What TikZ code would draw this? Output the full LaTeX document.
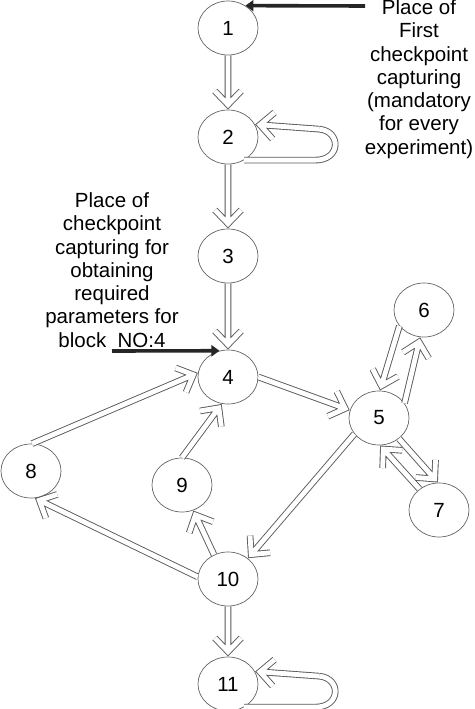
\documentclass[tikz,border=0pt]{standalone}
\usepackage{fontspec}
\setmainfont{Liberation Sans}
\usetikzlibrary{arrows.meta,calc,shapes.geometric}
\newcommand\conarrow[3]{%
  \coordinate (aT) at ($#3!5pt!#2$);
  \draw[#1] #2 -- ($#3!8pt!#2$) ($(aT)!19pt!44:#2$) -- (aT) -- ($(aT)!19pt!-44:#2$);
}
\newcommand\conloop[2]{%
  \draw[#1] (#2.-55) -- ++(71,0) .. controls +(26,0) and +(22,2) .. ++(4,-31) coordinate (lp);
  \conarrow{#1}{(lp)}{(#2.25)}%
}
\newcommand\allconn[1]{%
  \conarrow{#1}{(n1.-90)}{(n2.90)}
  \conarrow{#1}{(n2.-90)}{(n3.90)}
  \conarrow{#1}{(n3.-90)}{(n4.90)}
  \conarrow{#1}{(n10.-90)}{(n11.90)}
  \conarrow{#1}{(n4.0)}{(n5.165)}
  \conarrow{#1}{(n6.213)}{(n5.88)}
  \conarrow{#1}{(n5.30)}{(n6.262)}
  \conarrow{#1}{(n5.-46)}{(n7.92)}
  \conarrow{#1}{(n7.133)}{(n5.-88)}
  \conarrow{#1}{(n5.213)}{(n10.46)}
  \conarrow{#1}{(n10.120)}{(n9.-66)}
  \conarrow{#1}{(n9.90)}{(n4.257)}
  \conarrow{#1}{(n10.176)}{(n8.-82)}
  \conarrow{#1}{(n8.88)}{(n4.172)}
  \conloop{#1}{n2}
  \conloop{#1}{n11}
}
\begin{document}
\begin{tikzpicture}[x=1pt,y=-1pt,
  blk/.style={draw=black!60, line width=0.7pt, ellipse, minimum width=60pt, minimum height=54pt, inner sep=0pt, font=\fontsize{20.5}{23.3}\selectfont},
  outerln/.style={draw=black!65, line width=6.6pt, line join=miter, line cap=butt},
  innerln/.style={draw=white, line width=4.8pt, line join=miter, line cap=butt},
  note/.style={align=center, inner sep=0pt, font=\fontsize{20.5}{23.3}\selectfont},
  pointer/.style={draw=black!85, line width=3.6pt, -{Triangle[length=8pt,width=11pt]}}]
\useasboundingbox (0,0) rectangle (474,709);
\fill[white] (0,0) rectangle (474,709);
\node[blk] (n1) at (228,28) {1};
\node[blk] (n2) at (228,137) {2};
\node[blk] (n3) at (228,256) {3};
\node[blk] (n4) at (228,377) {4};
\node[blk] (n5) at (379,418) {5};
\node[blk] (n6) at (424,310) {6};
\node[blk] (n7) at (439,510) {7};
\node[blk] (n8) at (31,471) {8};
\node[blk] (n9) at (182,485) {9};
\node[blk] (n10) at (228,579) {10};
\node[blk] (n11) at (228,684) {11};

\node[note] (t1) at (419,79) {Place of\\First\\checkpoint\\capturing\\(mandatory\\for every\\experiment)};
\node[note] (t2) at (112,270) {Place of\\checkpoint\\capturing for\\obtaining\\required\\parameters for\\block\ \ NO:4};

\allconn{outerln}
\allconn{innerln}

\coordinate (ta) at (365,6);
\coordinate (tb) at (112,351);
\draw[pointer] (ta) -- (n1.52);
\draw[pointer] (tb) -- (n4.108);
\end{tikzpicture}
\end{document}
